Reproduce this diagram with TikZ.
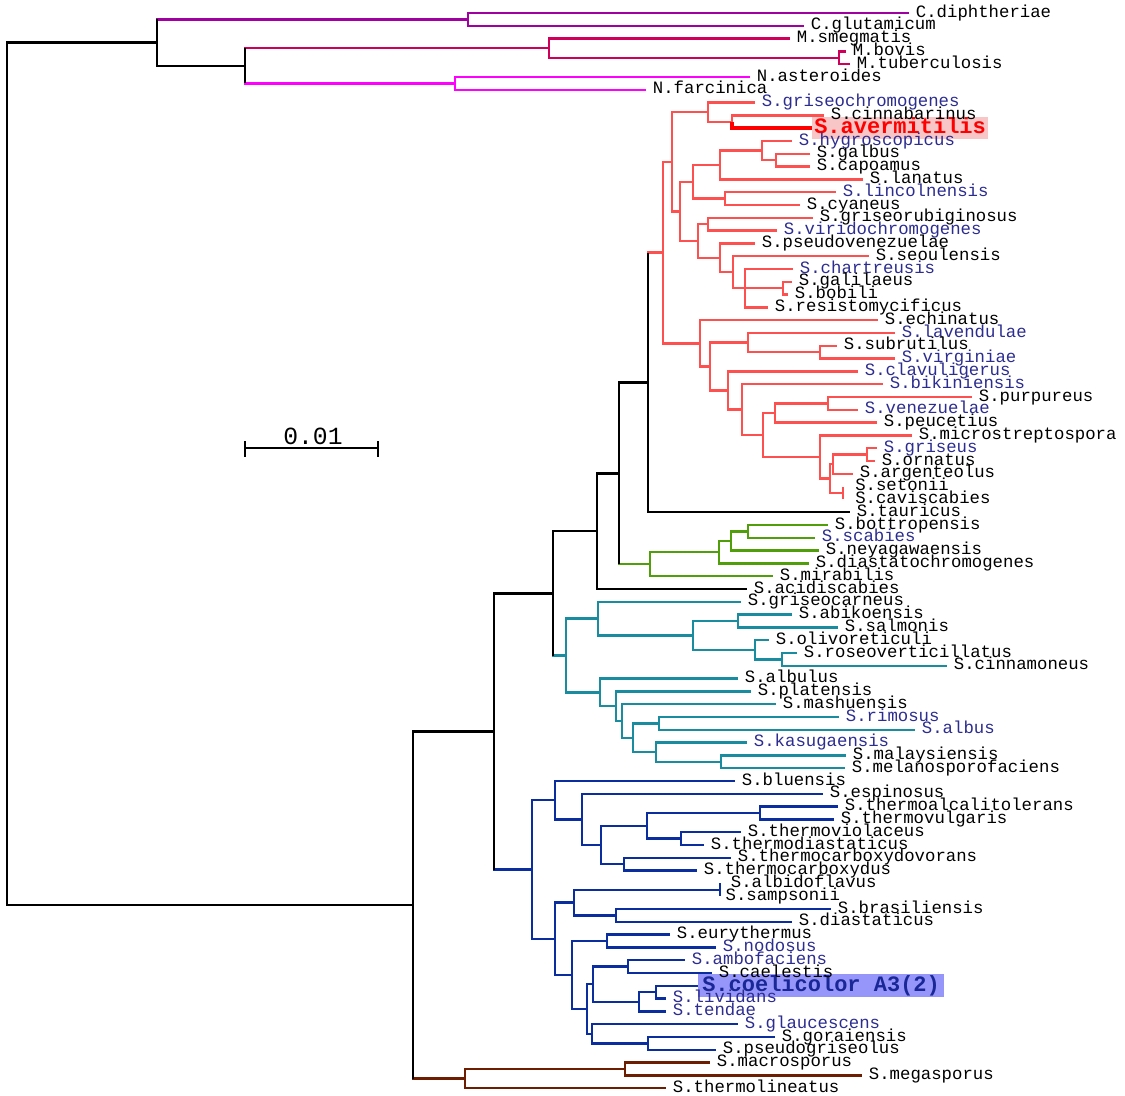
\documentclass[tikz,border=0pt]{standalone}
\usepackage{fontspec}
\usepackage{tikz}
\newfontfamily\labfont{Liberation Mono}
\definecolor{corycol}{RGB}{160,0,160}
\definecolor{mycocol}{RGB}{208,0,90}
\definecolor{nocacol}{RGB}{255,0,255}
\definecolor{redcol}{RGB}{255,80,80}
\definecolor{greencol}{RGB}{80,158,10}
\definecolor{tealcol}{RGB}{25,140,160}
\definecolor{bluecol}{RGB}{10,45,160}
\definecolor{browncol}{RGB}{110,30,0}
\definecolor{namecol}{RGB}{45,45,145}
\definecolor{coelcol}{RGB}{25,40,150}
\definecolor{pinkbox}{RGB}{248,198,198}
\definecolor{violetbox}{RGB}{150,150,250}

\begin{document}
\begin{tikzpicture}[x=0.75pt,y=0.75pt,yscale=-1,xscale=1,
  br/.style={line width=1.8pt},
  lab/.style={anchor=west,inner xsep=5pt,inner ysep=0pt,text height=6pt,text depth=0pt,font=\labfont\fontsize{13pt}{13pt}\selectfont},
  blab/.style={lab,text=namecol},
  hilite/.style={anchor=west,inner xsep=1.5pt,inner ysep=0pt,text height=8.6pt,text depth=0pt,minimum height=16.5pt,font=\labfont\bfseries\fontsize{16.5pt}{16.5pt}\selectfont}]
\path[use as bounding box,fill=white] (0,0) rectangle (1125,1096);

% highlighted genomes
\node[hilite,fill=pinkbox,text=red] (avermitilis) at (812,128.2) {S.avermitilis};
\node[hilite,fill=violetbox,text=coelcol,minimum height=17.5pt,inner xsep=3pt] (coelicolor) at (698,985.8) {S.coelicolor A3(2)};

% leaves
\node[lab] (diphtheriae) at (909,13) {C.diphtheriae};
\node[lab] (glutamicum) at (804,25.8) {C.glutamicum};
\node[lab] (smegmatis) at (790,38.6) {M.smegmatis};
\node[lab] (bovis) at (846,51.4) {M.bovis};
\node[lab] (tuberculosis) at (850,64.2) {M.tuberculosis};
\node[lab] (asteroides) at (750,77) {N.asteroides};
\node[lab] (farcinica) at (646,89.8) {N.farcinica};
\node[blab] (griseochromogenes) at (755,102.6) {S.griseochromogenes};
\node[lab] (cinnabarinus) at (824,115.4) {S.cinnabarinus};
\node[blab] (hygroscopicus) at (792,141) {S.hygroscopicus};
\node[lab] (galbus) at (810,153.8) {S.galbus};
\node[lab] (capoamus) at (810,166.6) {S.capoamus};
\node[lab] (lanatus) at (863,179.4) {S.lanatus};
\node[blab] (lincolnensis) at (836,192.2) {S.lincolnensis};
\node[lab] (cyaneus) at (800,205) {S.cyaneus};
\node[lab] (griseorubiginosus) at (813,217.8) {S.griseorubiginosus};
\node[blab] (viridochromogenes) at (777,230.6) {S.viridochromogenes};
\node[lab] (pseudovenezuelae) at (755,243.4) {S.pseudovenezuelae};
\node[lab] (seoulensis) at (869,256.2) {S.seoulensis};
\node[blab] (chartreusis) at (793,269) {S.chartreusis};
\node[lab] (galilaeus) at (792,281.8) {S.galilaeus};
\node[lab] (bobili) at (788,294.6) {S.bobili};
\node[lab] (resistomycificus) at (768,307.4) {S.resistomycificus};
\node[lab] (echinatus) at (878,320.2) {S.echinatus};
\node[blab] (lavendulae) at (895,333) {S.lavendulae};
\node[lab] (subrutilus) at (837,345.8) {S.subrutilus};
\node[blab] (virginiae) at (895,358.6) {S.virginiae};
\node[blab] (clavuligerus) at (858,371.4) {S.clavuligerus};
\node[blab] (bikiniensis) at (883,384.2) {S.bikiniensis};
\node[lab] (purpureus) at (972,397) {S.purpureus};
\node[blab] (venezuelae) at (858,409.8) {S.venezuelae};
\node[lab] (peucetius) at (877,422.6) {S.peucetius};
\node[lab] (microstreptospora) at (912,435.4) {S.microstreptospora};
\node[blab] (griseus) at (877,448.2) {S.griseus};
\node[lab] (ornatus) at (875,461) {S.ornatus};
\node[lab] (argenteolus) at (853,473.8) {S.argenteolus};
\node[lab,inner xsep=9pt] (setonii) at (843,486.6) {S.setonii};
\node[lab,inner xsep=9pt] (caviscabies) at (843,499.4) {S.caviscabies};
\node[lab] (tauricus) at (850,512.2) {S.tauricus};
\node[lab] (bottropensis) at (828,525) {S.bottropensis};
\node[blab] (scabies) at (815,537.8) {S.scabies};
\node[lab] (neyagawaensis) at (819,550.6) {S.neyagawaensis};
\node[lab] (diastatochromogenes) at (809,563.4) {S.diastatochromogenes};
\node[lab] (mirabilis) at (773,576.2) {S.mirabilis};
\node[lab] (acidiscabies) at (747,589) {S.acidiscabies};
\node[lab] (griseocarneus) at (741,601.8) {S.griseocarneus};
\node[lab] (abikoensis) at (792,614.6) {S.abikoensis};
\node[lab] (salmonis) at (838,627.4) {S.salmonis};
\node[lab] (olivoreticuli) at (769,640.2) {S.olivoreticuli};
\node[lab] (roseoverticillatus) at (797,653) {S.roseoverticillatus};
\node[lab] (cinnamoneus) at (947,665.8) {S.cinnamoneus};
\node[lab] (albulus) at (738,678.6) {S.albulus};
\node[lab] (platensis) at (751,691.4) {S.platensis};
\node[lab] (mashuensis) at (776,704.2) {S.mashuensis};
\node[blab] (rimosus) at (839,717) {S.rimosus};
\node[blab] (albus) at (915,729.8) {S.albus};
\node[blab] (kasugaensis) at (747,742.6) {S.kasugaensis};
\node[lab] (malaysiensis) at (846,755.4) {S.malaysiensis};
\node[lab] (melanosporofaciens) at (845,768.2) {S.melanosporofaciens};
\node[lab] (bluensis) at (735,781) {S.bluensis};
\node[lab] (espinosus) at (823,793.8) {S.espinosus};
\node[lab] (thermoalcalitolerans) at (838,806.6) {S.thermoalcalitolerans};
\node[lab] (thermovulgaris) at (834,819.4) {S.thermovulgaris};
\node[lab] (thermoviolaceus) at (741,832.2) {S.thermoviolaceus};
\node[lab] (thermodiastaticus) at (704,845) {S.thermodiastaticus};
\node[lab] (thermocarboxydovorans) at (731,857.8) {S.thermocarboxydovorans};
\node[lab] (thermocarboxydus) at (697,870.6) {S.thermocarboxydus};
\node[lab,inner xsep=8pt] (albidoflavus) at (720,883.4) {S.albidoflavus};
\node[lab,inner xsep=4pt] (sampsonii) at (720,896.2) {S.sampsonii};
\node[lab] (brasiliensis) at (831,909) {S.brasiliensis};
\node[lab] (diastaticus) at (792,921.8) {S.diastaticus};
\node[lab] (eurythermus) at (670,934.6) {S.eurythermus};
\node[blab] (nodosus) at (716,947.4) {S.nodosus};
\node[blab] (ambofaciens) at (685,960.2) {S.ambofaciens};
\node[lab] (caelestis) at (712,973) {S.caelestis};
\node[blab] (lividans) at (666,998.6) {S.lividans};
\node[blab] (tendae) at (666,1011.4) {S.tendae};
\node[blab] (glaucescens) at (738,1024.2) {S.glaucescens};
\node[lab] (goraiensis) at (775,1037) {S.goraiensis};
\node[lab] (pseudogriseolus) at (716,1049.8) {S.pseudogriseolus};
\node[lab] (macrosporus) at (710,1062.6) {S.macrosporus};
\node[lab] (megasporus) at (862,1075.4) {S.megasporus};
\node[lab] (thermolineatus) at (666,1088.2) {S.thermolineatus};

% inner nodes
\coordinate (root) at (7,473.8);
\coordinate (actino) at (157,42.6);
\coordinate (cory) at (468,19.4);
\coordinate (mycnoc) at (245,65.8);
\coordinate (myco) at (549,48.2);
\coordinate (mtbc) at (839,57.8);
\coordinate (noca) at (455,83.4);
\coordinate (strep) at (413,905);
\coordinate (k494) at (494,731.4);
\coordinate (k553) at (553,593.3);
\coordinate (k598) at (597,531.2);
\coordinate (k621) at (619,473.3);
\coordinate (k648) at (648,382.4);
\coordinate (r663) at (663,252.6);
\coordinate (r672) at (672,161.8);
\coordinate (r708a) at (708,112.2);
\coordinate (r732) at (732,121.8);
\coordinate (r680) at (680,211.4);
\coordinate (r693) at (693,181.8);
\coordinate (r720a) at (720,165);
\coordinate (r762) at (762,150.6);
\coordinate (r776) at (776,160.2);
\coordinate (r725) at (725,198.6);
\coordinate (r698) at (698,241);
\coordinate (r708b) at (708,224.2);
\coordinate (r720b) at (720,257.8);
\coordinate (r733) at (733,272.2);
\coordinate (r745) at (745,288.2);
\coordinate (r783) at (783,288.2);
\coordinate (r700) at (700,343.4);
\coordinate (r710) at (710,366.6);
\coordinate (r748) at (748,342.6);
\coordinate (r820a) at (820,352.2);
\coordinate (r728) at (728,390.5);
\coordinate (r742) at (742,409.6);
\coordinate (r763) at (763,435);
\coordinate (r775) at (775,413);
\coordinate (r828) at (828,403.4);
\coordinate (r820b) at (820,457);
\coordinate (r830) at (830,478.6);
\coordinate (r833) at (833,464.2);
\coordinate (r867) at (867,454.6);
\coordinate (r843) at (843,493);
\coordinate (g650) at (650,564.2);
\coordinate (g719) at (719,552.2);
\coordinate (g731) at (731,541);
\coordinate (g748) at (748,531.4);
\coordinate (t566) at (566,655.5);
\coordinate (t598) at (598,618.6);
\coordinate (t693) at (693,635.4);
\coordinate (t738) at (738,621);
\coordinate (t755) at (755,649.8);
\coordinate (t782) at (782,659.4);
\coordinate (t600) at (600,692.4);
\coordinate (t616) at (616,706.2);
\coordinate (t622) at (622,721);
\coordinate (t633) at (633,737.8);
\coordinate (t659) at (659,723.4);
\coordinate (t656) at (656,752.2);
\coordinate (t721) at (721,761.8);
\coordinate (b532) at (532,869.5);
\coordinate (b555a) at (555,800.2);
\coordinate (b582) at (582,819.4);
\coordinate (b601) at (601,845);
\coordinate (b647) at (647,825.8);
\coordinate (b760) at (760,813);
\coordinate (b681) at (681,838.6);
\coordinate (b624) at (624,864.2);
\coordinate (b555b) at (555,938.8);
\coordinate (b574) at (574,902.6);
\coordinate (b720) at (720,889.8);
\coordinate (b616) at (616,915.4);
\coordinate (b572) at (572,975);
\coordinate (b607) at (607,941);
\coordinate (b587) at (587,1009);
\coordinate (b593) at (593,984.2);
\coordinate (b628) at (628,966.6);
\coordinate (b639) at (639,1001.8);
\coordinate (b656) at (656,992.2);
\coordinate (b592) at (592,1033.8);
\coordinate (b648) at (648,1043.4);
\coordinate (w465) at (465,1078.6);
\coordinate (w625) at (625,1069);

% outgroups
\draw[br] (root) |- (actino) (root) |- (strep);
\draw[br] (actino) |- (mycnoc);
\draw[br,corycol] (actino) |- (cory);
\draw[br,corycol] (cory) |- (diphtheriae) (cory) |- (glutamicum);
\draw[br,mycocol] (mycnoc) |- (myco);
\draw[br,nocacol] (mycnoc) |- (noca);
\draw[br,mycocol] (myco) |- (smegmatis) (myco) |- (mtbc);
\draw[br,mycocol] (mtbc) |- (bovis) (mtbc) |- (tuberculosis);
\draw[br,nocacol] (noca) |- (asteroides) (noca) |- (farcinica);

% streptomyces backbone
\draw[br] (strep) |- (k494);
\draw[br,browncol] (strep) |- (w465);
\draw[br] (k494) |- (k553);
\draw[br,bluecol] (k494) |- (b532);
\draw[br] (k553) |- (k598);
\draw[br,tealcol] (k553) |- (t566);
\draw[br] (k598) |- (k621) (k598) |- (acidiscabies);
\draw[br] (k621) |- (k648);
\draw[br,greencol] (k621) |- (g650);
\draw[br] (k648) |- (tauricus);
\draw[br,redcol] (k648) |- (r663);

% red clade
\draw[br,redcol] (r663) |- (r672) (r663) |- (r700);
\draw[br,redcol] (r672) |- (r708a) (r672) |- (r680);
\draw[br,redcol] (r708a) |- (griseochromogenes) (r708a) |- (r732);
\draw[br,redcol] (r732) |- (cinnabarinus);
\draw[line width=2.6pt,red] (r732) |- (avermitilis);
\draw[br,redcol] (r680) |- (r693) (r680) |- (r698);
\draw[br,redcol] (r693) |- (r720a) (r693) |- (r725);
\draw[br,redcol] (r720a) |- (r762) (r720a) |- (lanatus);
\draw[br,redcol] (r762) |- (hygroscopicus) (r762) |- (r776);
\draw[br,redcol] (r776) |- (galbus) (r776) |- (capoamus);
\draw[br,redcol] (r725) |- (lincolnensis) (r725) |- (cyaneus);
\draw[br,redcol] (r698) |- (r708b) (r698) |- (r720b);
\draw[br,redcol] (r708b) |- (griseorubiginosus) (r708b) |- (viridochromogenes);
\draw[br,redcol] (r720b) |- (pseudovenezuelae) (r720b) |- (r733);
\draw[br,redcol] (r733) |- (seoulensis) (r733) |- (r745);
\draw[br,redcol] (r745) |- (chartreusis) (r745) |- (r783) (r745) |- (resistomycificus);
\draw[br,redcol] (r783) |- (galilaeus) (r783) |- (bobili);
\draw[br,redcol] (r700) |- (echinatus) (r700) |- (r710);
\draw[br,redcol] (r710) |- (r748) (r710) |- (r728);
\draw[br,redcol] (r748) |- (lavendulae) (r748) |- (r820a);
\draw[br,redcol] (r820a) |- (subrutilus) (r820a) |- (virginiae);
\draw[br,redcol] (r728) |- (clavuligerus) (r728) |- (r742);
\draw[br,redcol] (r742) |- (bikiniensis) (r742) |- (r763);
\draw[br,redcol] (r763) |- (r775) (r763) |- (r820b);
\draw[br,redcol] (r775) |- (r828) (r775) |- (peucetius);
\draw[br,redcol] (r828) |- (purpureus) (r828) |- (venezuelae);
\draw[br,redcol] (r820b) |- (microstreptospora) (r820b) |- (r830);
\draw[br,redcol] (r830) |- (r833) (r830) |- (r843);
\draw[br,redcol] (r833) |- (r867) (r833) |- (argenteolus);
\draw[br,redcol] (r867) |- (griseus) (r867) |- (ornatus);
\draw[br,redcol] (r843) |- (setonii) (r843) |- (caviscabies);

% green clade
\draw[br,greencol] (g650) |- (g719) (g650) |- (mirabilis);
\draw[br,greencol] (g719) |- (g731) (g719) |- (diastatochromogenes);
\draw[br,greencol] (g731) |- (g748) (g731) |- (neyagawaensis);
\draw[br,greencol] (g748) |- (bottropensis) (g748) |- (scabies);

% teal clade
\draw[br,tealcol] (t566) |- (t598) (t566) |- (t600);
\draw[br,tealcol] (t598) |- (griseocarneus) (t598) |- (t693);
\draw[br,tealcol] (t693) |- (t738) (t693) |- (t755);
\draw[br,tealcol] (t738) |- (abikoensis) (t738) |- (salmonis);
\draw[br,tealcol] (t755) |- (olivoreticuli) (t755) |- (t782);
\draw[br,tealcol] (t782) |- (roseoverticillatus) (t782) |- (cinnamoneus);
\draw[br,tealcol] (t600) |- (albulus) (t600) |- (t616);
\draw[br,tealcol] (t616) |- (platensis) (t616) |- (t622);
\draw[br,tealcol] (t622) |- (mashuensis) (t622) |- (t633);
\draw[br,tealcol] (t633) |- (t659) (t633) |- (t656);
\draw[br,tealcol] (t659) |- (rimosus) (t659) |- (albus);
\draw[br,tealcol] (t656) |- (kasugaensis) (t656) |- (t721);
\draw[br,tealcol] (t721) |- (malaysiensis) (t721) |- (melanosporofaciens);

% blue clade
\draw[br,bluecol] (b532) |- (b555a) (b532) |- (b555b);
\draw[br,bluecol] (b555a) |- (bluensis) (b555a) |- (b582);
\draw[br,bluecol] (b582) |- (espinosus) (b582) |- (b601);
\draw[br,bluecol] (b601) |- (b647) (b601) |- (b624);
\draw[br,bluecol] (b647) |- (b760) (b647) |- (b681);
\draw[br,bluecol] (b760) |- (thermoalcalitolerans) (b760) |- (thermovulgaris);
\draw[br,bluecol] (b681) |- (thermoviolaceus) (b681) |- (thermodiastaticus);
\draw[br,bluecol] (b624) |- (thermocarboxydovorans) (b624) |- (thermocarboxydus);
\draw[br,bluecol] (b555b) |- (b574) (b555b) |- (b572);
\draw[br,bluecol] (b574) |- (b720) (b574) |- (b616);
\draw[br,bluecol] (b720) |- (albidoflavus) (b720) |- (sampsonii);
\draw[br,bluecol] (b616) |- (brasiliensis) (b616) |- (diastaticus);
\draw[br,bluecol] (b572) |- (b607) (b572) |- (b587);
\draw[br,bluecol] (b607) |- (eurythermus) (b607) |- (nodosus);
\draw[br,bluecol] (b587) |- (b593) (b587) |- (b592);
\draw[br,bluecol] (b593) |- (b628) (b593) |- (b639);
\draw[br,bluecol] (b628) |- (ambofaciens) (b628) |- (caelestis);
\draw[br,bluecol] (b639) |- (b656) (b639) |- (tendae);
\draw[br,bluecol] (b656) |- (coelicolor) (b656) |- (lividans);
\draw[br,bluecol] (b592) |- (glaucescens) (b592) |- (b648);
\draw[br,bluecol] (b648) |- (goraiensis) (b648) |- (pseudogriseolus);

% brown clade
\draw[br,browncol] (w465) |- (w625) (w465) |- (thermolineatus);
\draw[br,browncol] (w625) |- (macrosporus) (w625) |- (megasporus);

% black verticals where the colour changes
\draw[br] (actino |- cory) -- (actino |- mycnoc);
\draw[br] (mycnoc |- myco) -- (mycnoc |- noca);
\draw[br] (k648 |- r663) -- (k648 |- tauricus);
\draw[br] (k621 |- k648) -- (k621 |- g650);
\draw[br] (k553 |- k598) -- (k553 |- t566);
\draw[br] (k494 |- k553) -- (k494 |- b532);
\draw[br] (strep |- k494) -- (strep |- w465);

% scale bar
\draw[line width=2.2pt] (245,448) -- (378,448);
\draw[line width=2.2pt] (245,441) -- (245,457);
\draw[line width=2.2pt] (378,441) -- (378,457);
\node[font=\labfont\fontsize{18.5pt}{18.5pt}\selectfont,inner sep=0pt] (scalelab) at (313,436) {0.01};
\end{tikzpicture}
\end{document}
